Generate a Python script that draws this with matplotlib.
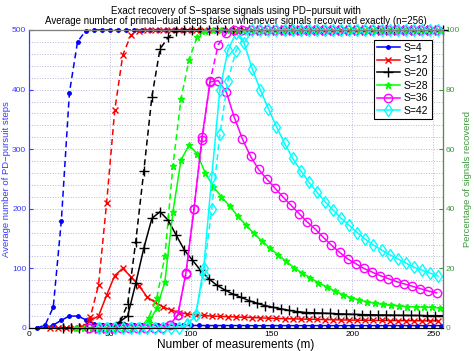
import numpy as np
import matplotlib
matplotlib.use('Agg')
import matplotlib.pyplot as plt
from matplotlib.ticker import MultipleLocator

plt.rcParams['font.family'] = ['Liberation Sans', 'DejaVu Sans']

# sparsity levels; measurements are taken at m = S+1, S+6, ... up to n=256
sparsity = [4, 12, 20, 28, 36, 42]
n = 256

# average number of PD-pursuit steps (left axis, solid)
steps4 = [0, 0, 5, 13, 20, 20, 14, 7, 5, 4.5,
          4.5, 4.5, 4.4, 4.4, 4.3, 4.3, 4.3, 4.2, 4.2, 4.2,
          4.2, 4.1, 4.1, 4.1, 4.1, 4.1, 4.0, 4.0, 4.0, 4.0,
          4.0, 4.0, 4.0, 4.0, 4.0, 4.0, 4.0, 4.0, 4.0, 4.0,
          4.0, 4.0, 4.0, 4.0, 4.0, 4.0, 4.0, 4.0, 4.0, 4.0, 4.0]
steps12 = [0, 0, 0, 0, 1, 13, 20, 55, 88, 100, 86, 71, 52, 43, 35, 30, 26, 23.5,
           22, 21, 20, 19.5, 19, 18.5, 18, 17.5, 17, 16.5, 16, 15.7, 15.4, 15,
           14.7, 14.4, 14.1, 13.8, 13.5, 13.3, 13.1, 12.9, 12.8, 12.6, 12.5,
           12.4, 12.3, 12.2, 12.1, 12, 12]
steps20 = [0, 0, 0, 0, 0, 0, 0, 10.6, 20, 75, 134, 184, 195, 181, 156, 131, 114,
           97, 83, 72, 64, 57, 51.5, 46, 41.5, 37.5, 34.7, 32, 29.5, 27.5, 26,
           25.5, 25, 24.4, 23.8, 23.3, 22.9, 22.5, 22.2, 21.9, 21.7, 21.5, 21.3,
           21.1, 21, 20.8, 20.7, 20.6]
steps28 = [0, 0, 0, 0, 0, 0, 0, 0, 0, 9, 33, 77, 195, 282, 307, 292, 260, 237,
           220, 205, 188, 173, 159, 146, 134, 123, 112, 101, 92, 84, 76, 69, 62,
           56, 51, 47, 44, 41.5, 39.5, 38, 37, 36, 35.4, 35, 34.5, 34]
steps36 = [0, 0, 0, 0, 0, 0, 0, 0, 0, 0, 5, 22, 92, 199, 320, 413, 415, 396, 353,
           317, 288, 266, 250, 235, 220, 206, 192, 178, 166, 152, 139, 127, 116,
           108, 100, 94, 88, 83, 78, 74, 70, 66, 62, 59]
steps42 = [0, 0, 0, 0, 0, 0, 0, 0, 0, 0, 0, 5, 22, 100, 254, 399, 466, 495, 478,
           435, 400, 368, 338, 310, 285, 264, 245, 228, 212, 198, 184, 172, 160,
           149, 139, 131, 123, 116, 109, 102, 97, 92, 87]

# percentage of signals recovered (right axis, dashed)
pct4 = [0, 1, 7, 36, 79, 96, 99.7] + [100] * 44
pct12 = [0, 0, 0, 0, 0.5, 3.8, 14.5, 42, 73, 91.6, 98.3, 99.7] + [100] * 37
pct20 = [0, 0, 0, 0, 0, 0, 0, 1.6, 8, 29, 52.7, 77.6, 93.6, 97.5, 99.7] + [100] * 33
pct28 = [0] * 9 + [3.5, 10, 24, 54.5, 77, 90, 97.8, 99.7] + [100] * 29
pct36 = [0] * 10 + [1, 4.4, 18, 40, 63, 83, 95, 99] + [100] * 26
pct42 = [0] * 11 + [1.5, 4.4, 18, 40, 65, 83, 93, 98] + [100] * 24

steps = [steps4, steps12, steps20, steps28, steps36, steps42]
pcts = [pct4, pct12, pct20, pct28, pct36, pct42]
colors = ['#0000ff', '#ff0000', '#000000', '#00ff00', '#ff00ff', '#00ffff']
markers = ['.', 'x', '+', '*', 'o', 'd']
msizes = [5, 5, 7, 4.5, 6, 6]

fig = plt.figure(figsize=(4.74, 3.51), dpi=100)
ax = fig.add_axes([29 / 474, 1 - 328 / 351, (443 - 29) / 474, (328 - 30) / 351])
ax2 = ax.twinx()

handles = []
for S, st, pc, c, mk, ms in zip(sparsity, steps, pcts, colors, markers, msizes):
    m = np.arange(S + 1, n + 1, 5)
    h, = ax.plot(m, st, '-', color=c, marker=mk, ms=ms, mfc='none' if mk in 'od' else c,
                 lw=1.1, mew=1.0, label='S=%d' % S)
    ax2.plot(m, pc, '--', color=c, marker=mk, ms=ms, mfc='none' if mk in 'od' else c,
             lw=1.1, mew=1.0, dashes=(4, 2.5), clip_on=False)
    handles.append(h)

blue = '#3a3aff'
green = '#3c9c3c'
ax.set_xlim(0, n)
ax.set_ylim(0, 500)
ax2.set_ylim(0, 100)
ax.set_xticks(range(0, 251, 50))
ax.set_yticks(range(0, 501, 100))
ax2.set_yticks(range(0, 101, 20))
ax.yaxis.set_minor_locator(MultipleLocator(20))
ax.grid(which='both', axis='y', ls=':', color='#b8b8d8', lw=0.7)
ax.grid(which='major', axis='x', ls=':', color='#b8b8d8', lw=0.7)
ax.set_axisbelow(True)

ax.tick_params(axis='both', which='major', direction='in', length=3, labelsize=6, pad=2)
ax.tick_params(axis='y', which='minor', length=0)
ax.tick_params(axis='y', colors=blue)
ax2.tick_params(axis='y', direction='in', length=3, labelsize=6, colors=green, pad=2)
ax2.spines['left'].set_color(blue)
ax2.spines['right'].set_color(green)
ax2.spines['top'].set_color('#808080')
ax.spines['left'].set_color(blue)

ax.set_xlabel('Number of measurements (m)', fontsize=8.5, labelpad=1)
ax.set_ylabel('Average number of PD\u2212pursuit steps', fontsize=6.8, color=blue, labelpad=1)
ax2.set_ylabel('Percentage of signals recovered', fontsize=6.8, color=green, labelpad=2)
ax.set_title('Exact recovery of S\u2212sparse signals using PD\u2212pursuit with\n'
             'Average number of primal\u2212dual steps taken whenever signals recovered exactly (n=256)',
             fontsize=7, pad=4, linespacing=1.1)

leg = ax2.legend(handles=handles, loc='upper right', bbox_to_anchor=(0.985, 0.985),
                 fontsize=7.5, fancybox=False, framealpha=1, edgecolor='black',
                 handlelength=2.2, labelspacing=0.25, borderpad=0.3, handletextpad=0.4)
leg.get_frame().set_linewidth(0.8)

fig.savefig('out.png', dpi=100)
